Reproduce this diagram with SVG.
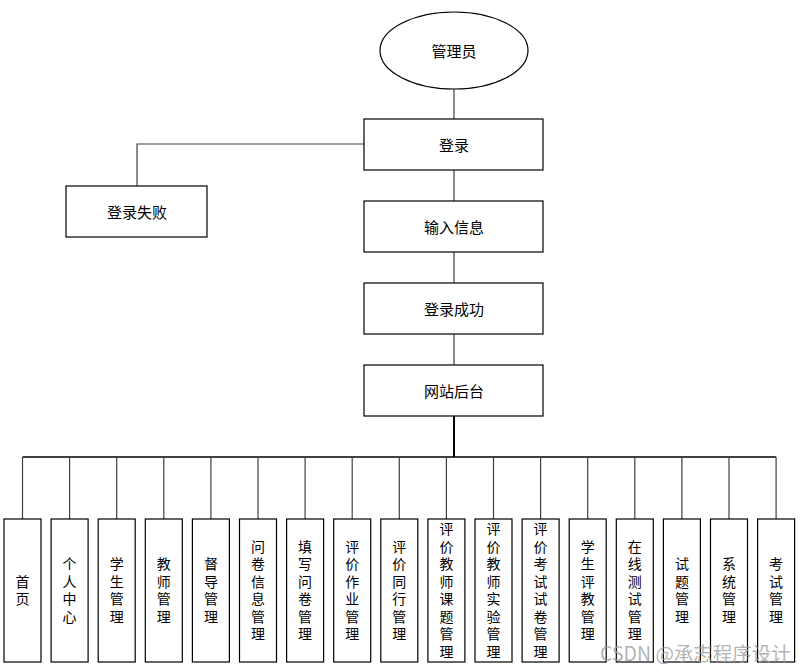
<svg xmlns="http://www.w3.org/2000/svg" width="807" height="671" viewBox="0 0 807 671">
<style>
.box{fill:#fff;stroke:#000;stroke-width:1.2}
.ln{fill:none;stroke:#404040;stroke-width:1.2}
.thick{fill:none;stroke:#000;stroke-width:2}
.t{font-family:"Noto Sans CJK SC","Noto Sans",sans-serif;font-size:15px;fill:#000;text-anchor:middle;dominant-baseline:central}
.v{font-family:"Noto Sans CJK SC","Noto Sans",sans-serif;font-size:14px;fill:#000;text-anchor:middle;writing-mode:vertical-rl;letter-spacing:3.5px}
.wm{font-family:"Noto Sans CJK SC","Noto Sans",sans-serif;font-size:19.5px;fill:#9a9a9a;fill-opacity:0.75;dominant-baseline:central}
</style>
<rect width="807" height="671" fill="#fff"/>
<g id="connectors">
<line class="ln" x1="454" y1="89" x2="454" y2="119"/>
<polyline class="ln" points="364,144 137,144 137,186"/>
<line class="ln" x1="454" y1="170" x2="454" y2="201"/>
<line class="ln" x1="454" y1="252" x2="454" y2="283"/>
<line class="ln" x1="454" y1="334" x2="454" y2="365"/>
<line class="thick" x1="454" y1="416" x2="454" y2="457"/>
<line class="ln" x1="22.5" y1="457" x2="776.1" y2="457" style="stroke:#000;stroke-width:1.6"/>
<line class="ln" x1="22.5" y1="457" x2="22.5" y2="519"/>
<line class="ln" x1="69.6" y1="457" x2="69.6" y2="519"/>
<line class="ln" x1="116.7" y1="457" x2="116.7" y2="519"/>
<line class="ln" x1="163.8" y1="457" x2="163.8" y2="519"/>
<line class="ln" x1="210.9" y1="457" x2="210.9" y2="519"/>
<line class="ln" x1="258" y1="457" x2="258" y2="519"/>
<line class="ln" x1="305.1" y1="457" x2="305.1" y2="519"/>
<line class="ln" x1="352.2" y1="457" x2="352.2" y2="519"/>
<line class="ln" x1="399.3" y1="457" x2="399.3" y2="519"/>
<line class="ln" x1="446.4" y1="457" x2="446.4" y2="519"/>
<line class="ln" x1="493.5" y1="457" x2="493.5" y2="519"/>
<line class="ln" x1="540.6" y1="457" x2="540.6" y2="519"/>
<line class="ln" x1="587.7" y1="457" x2="587.7" y2="519"/>
<line class="ln" x1="634.8" y1="457" x2="634.8" y2="519"/>
<line class="ln" x1="681.9" y1="457" x2="681.9" y2="519"/>
<line class="ln" x1="729" y1="457" x2="729" y2="519"/>
<line class="ln" x1="776.1" y1="457" x2="776.1" y2="519"/>
</g>
<g id="admin"><ellipse class="box" cx="454" cy="50.5" rx="74" ry="38.5"/><text class="t" x="454" y="50">管理员</text></g>
<g id="login"><rect class="box" x="364" y="119" width="179" height="51"/><text class="t" x="454" y="144.5">登录</text></g>
<g id="loginFail"><rect class="box" x="66" y="186" width="141" height="51"/><text class="t" x="137" y="211.5">登录失败</text></g>
<g id="input"><rect class="box" x="364" y="201" width="179" height="51"/><text class="t" x="454" y="226.5">输入信息</text></g>
<g id="loginOk"><rect class="box" x="364" y="283" width="179" height="51"/><text class="t" x="454" y="308.5">登录成功</text></g>
<g id="backend"><rect class="box" x="364" y="365" width="179" height="51"/><text class="t" x="454" y="390.5">网站后台</text></g>
<g id="m0"><rect class="box" x="4" y="519" width="37" height="143"/><text class="v" x="22.5" y="592">首页</text></g>
<g id="m1"><rect class="box" x="51.1" y="519" width="37" height="143"/><text class="v" x="69.6" y="592">个人中心</text></g>
<g id="m2"><rect class="box" x="98.2" y="519" width="37" height="143"/><text class="v" x="116.7" y="592">学生管理</text></g>
<g id="m3"><rect class="box" x="145.3" y="519" width="37" height="143"/><text class="v" x="163.8" y="592">教师管理</text></g>
<g id="m4"><rect class="box" x="192.4" y="519" width="37" height="143"/><text class="v" x="210.9" y="592">督导管理</text></g>
<g id="m5"><rect class="box" x="239.5" y="519" width="37" height="143"/><text class="v" x="258" y="592">问卷信息管理</text></g>
<g id="m6"><rect class="box" x="286.6" y="519" width="37" height="143"/><text class="v" x="305.1" y="592">填写问卷管理</text></g>
<g id="m7"><rect class="box" x="333.7" y="519" width="37" height="143"/><text class="v" x="352.2" y="592">评价作业管理</text></g>
<g id="m8"><rect class="box" x="380.8" y="519" width="37" height="143"/><text class="v" x="399.3" y="592">评价同行管理</text></g>
<g id="m9"><rect class="box" x="427.9" y="519" width="37" height="143"/><text class="v" x="446.4" y="592">评价教师课题管理</text></g>
<g id="m10"><rect class="box" x="475" y="519" width="37" height="143"/><text class="v" x="493.5" y="592">评价教师实验管理</text></g>
<g id="m11"><rect class="box" x="522.1" y="519" width="37" height="143"/><text class="v" x="540.6" y="592">评价考试试卷管理</text></g>
<g id="m12"><rect class="box" x="569.2" y="519" width="37" height="143"/><text class="v" x="587.7" y="592">学生评教管理</text></g>
<g id="m13"><rect class="box" x="616.3" y="519" width="37" height="143"/><text class="v" x="634.8" y="592">在线测试管理</text></g>
<g id="m14"><rect class="box" x="663.4" y="519" width="37" height="143"/><text class="v" x="681.9" y="592">试题管理</text></g>
<g id="m15"><rect class="box" x="710.5" y="519" width="37" height="143"/><text class="v" x="729" y="592">系统管理</text></g>
<g id="m16"><rect class="box" x="757.6" y="519" width="37" height="143"/><text class="v" x="776.1" y="592">考试管理</text></g>
<text class="wm" x="600" y="652">CSDN @承志程序设计</text>
</svg>
